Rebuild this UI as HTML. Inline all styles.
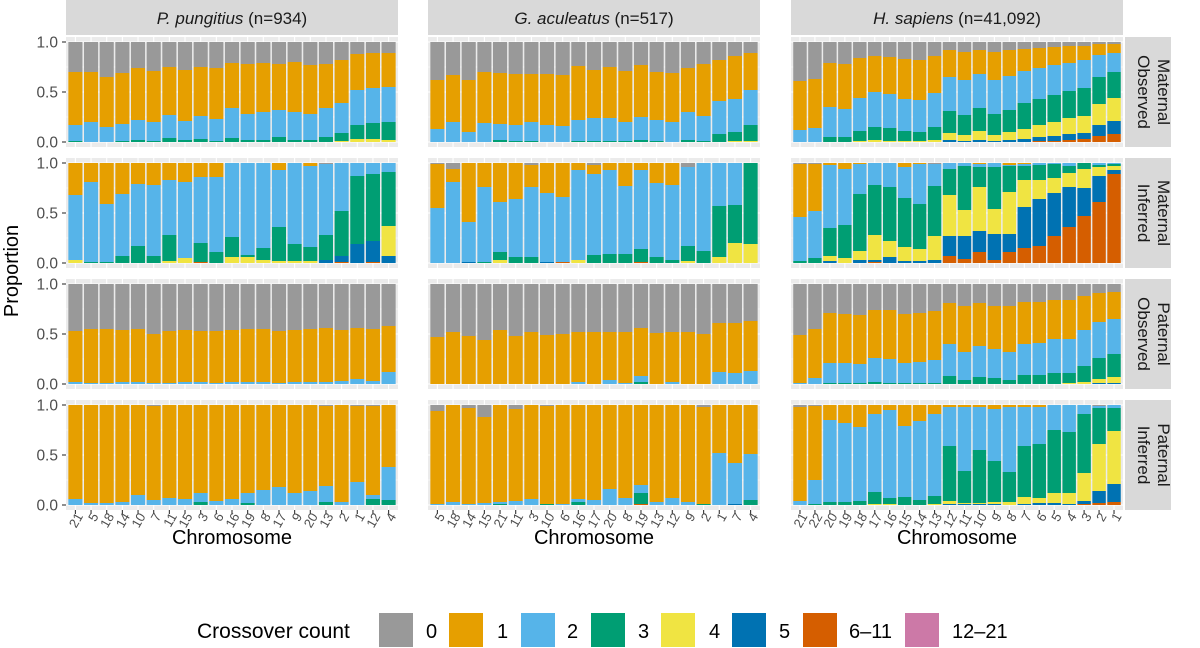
<!DOCTYPE html>
<html><head><meta charset="utf-8">
<style>
html,body{margin:0;padding:0;background:#fff;}
svg{display:block;font-family:"Liberation Sans",Arial,sans-serif;}
</style></head>
<body>
<svg id="chart" width="1200" height="648" viewBox="0 0 1200 648" xmlns="http://www.w3.org/2000/svg"></svg>
<script>
const colors = ["#999999","#E69F00","#56B4E9","#009E73","#F0E442","#0072B2","#D55E00","#CC79A7"];
const legendLabels = ["0","1","2","3","4","5","6\u201311","12\u201321"];
const yTicks = [0, 0.5, 1];
const yTickLabels = ["0.0","0.5","1.0"];
const species = ["P. pungitius","G. aculeatus","H. sapiens"];
const speciesN = ["(n=934)","(n=517)","(n=41,092)"];
const rowLabels = [["Maternal","Observed"],["Maternal","Inferred"],["Paternal","Observed"],["Paternal","Inferred"]];
const ppChrom = ["21","5","18","14","10","7","11","15","3","6","16","19","8","17","9","20","13","2","1","12","4"];
const gaChrom = ["5","18","14","15","21","11","3","10","6","16","17","20","8","19","13","12","9","2","1","7","4"];
const hsChrom = ["21","22","20","19","18","17","16","15","14","13","12","11","10","9","8","7","6","5","4","3","2","1"];

const ppMatObs = [[.30,.53,.16,.01],[.30,.50,.20],[.35,.50,.15],[.31,.51,.17,.01],[.26,.52,.20,.02],[.29,.51,.19,.01],[.25,.48,.23,.04],[.28,.51,.19,.02],[.25,.49,.23,.03],[.26,.51,.22,.01],[.21,.45,.30,.04],[.22,.50,.26,.02],[.21,.49,.28,.02],[.22,.46,.27,.05],[.20,.50,.28,.02],[.23,.49,.26,.02],[.22,.44,.29,.05],[.18,.43,.30,.08,.01],[.12,.36,.35,.14,.03],[.11,.35,.35,.16,.03],[.11,.34,.35,.18,.02]];
const ppMatInf = [[0,.32,.65,0,.03],[0,.19,.80,.01],[0,.41,.58,.01],[0,.31,.62,.07],[0,.21,.62,.17],[0,.22,.71,.07],[0,.17,.55,.26,.02],[0,.19,.76,0,.05],[0,.14,.66,.19,0,0,.01],[0,.14,.75,.11],[0,0,.74,.20,.06],[0,0,.92,.02,.06],[0,0,.85,.12,.03],[0,.07,.57,.34,.02],[0,0,.81,.17,.02],[0,.03,.81,.14,.02],[.01,0,.71,.25,0,.03],[0,0,.48,.45,0,.06,.01],[0,0,.13,.68,0,.19],[0,0,.11,.67,0,.21,.01],[0,0,.09,.54,.30,.07]];
const ppPatObs = [[.47,.51,.02],[.45,.54,.01],[.45,.54,.01],[.46,.52,.02],[.45,.53,.02],[.50,.49,.01],[.47,.52,.01],[.46,.52,.02],[.47,.51,.02],[.47,.52,.01],[.46,.52,.02],[.45,.53,.02],[.45,.53,.02],[.47,.52,.01],[.46,.52,.02],[.45,.53,.02],[.44,.54,.02],[.46,.51,.03],[.44,.51,.05],[.45,.52,.03],[.42,.46,.12]];
const ppPatInf = [[0,.94,.06],[0,.98,.02],[0,.98,.02],[0,.97,.03],[0,.90,.10],[.01,.94,.05],[0,.93,.07],[0,.94,.06],[0,.88,.09,.03],[0,.96,.04],[0,.94,.06],[0,.88,.10,.02],[0,.85,.15],[0,.82,.18],[0,.88,.12],[0,.86,.14],[.01,.80,.16,.03],[0,.97,.03],[.01,.76,.23],[.01,.89,.04,.06],[0,.62,.33,.05]];
const gaMatObs = [[.38,.49,.13],[.33,.47,.20],[.38,.52,.10],[.30,.51,.19],[.31,.51,.16,.02],[.32,.51,.16,.01],[.32,.48,.19,.01],[.32,.51,.17],[.33,.51,.16],[.24,.54,.21,.01],[.28,.48,.23,.01],[.25,.51,.23,.01],[.29,.51,.19,.01],[.23,.52,.23,.02],[.30,.48,.21,.01],[.31,.49,.20],[.26,.44,.28,.02],[.22,.52,.25,.01],[.18,.41,.33,.08],[.14,.43,.33,.09,.01],[.11,.37,.35,.16,.01]];
const gaMatInf = [[.01,.44,.55],[.06,.13,.81],[0,.59,.40,0,0,.01],[0,.24,.75,.01],[0,.39,.50,.08,.03],[0,.36,.58,.06],[.02,.22,.70,.06],[0,.30,.69,0,0,.01],[0,.34,.65,0,0,0,.01],[0,.07,.90,0,.03],[.02,.09,.81,.08],[0,.07,.84,.09],[0,.23,.68,.09],[0,.07,.79,.13,0,0,.01],[0,.20,.74,.06],[0,.22,.75,.03],[.04,0,.79,.15,.02],[0,0,.88,.12],[0,0,.43,.51,.06],[0,0,.42,.38,.20],[0,0,0,.81,.19]];
const gaPatObs = [[.53,.47],[.48,.52],[.52,.48],[.56,.44],[.46,.54],[.52,.48],[.48,.52],[.51,.49],[.50,.50],[.48,.50,.02],[.48,.52],[.48,.48,.04],[.48,.51,.01],[.44,.48,.06,.02],[.49,.51],[.48,.50,.02],[.48,.52],[.50,.50],[.39,.49,.12],[.39,.50,.11],[.37,.50,.13]];
const gaPatInf = [[.06,.93,.01],[0,.97,.03],[.03,.96,.01],[.12,.86,.02],[0,.97,.02,.01],[.04,.92,.04],[0,.94,.06],[.01,.98,0,.01],[0,.99,.01],[0,.94,.03,.03],[0,.95,.05],[0,.84,.16],[0,.93,.07],[0,.80,.08,.11,0,0,.01],[0,.97,.03],[0,.93,.07],[0,.97,.03],[.02,.97,0,.01],[0,.48,.52],[0,.58,.41,0,0,.01],[0,.49,.46,.05]];
const hsMatObs = [[.39,.49,.12],[.37,.49,.14],[.21,.44,.30,.05],[.22,.45,.28,.05],[.16,.40,.33,.10,.01],[.14,.36,.35,.13,.02],[.15,.37,.34,.13,.01],[.17,.40,.32,.10,.01],[.18,.40,.32,.09,.01],[.14,.37,.34,.13,.02],[.08,.27,.34,.22,.07,.02],[.10,.28,.35,.20,.06,.01],[.08,.24,.34,.23,.09,.02],[.10,.28,.34,.21,.06,.01],[.08,.26,.34,.22,.08,.02],[.07,.22,.32,.26,.10,.03],[.06,.20,.31,.26,.12,.04,.01],[.05,.18,.30,.27,.14,.05,.01],[.04,.17,.28,.27,.16,.06,.02],[.04,.14,.28,.28,.17,.06,.03],[.02,.11,.22,.27,.21,.11,.06],[.02,.09,.19,.26,.23,.13,.08]];
const hsMatInf = [[.01,.53,.44,.02],[.01,.47,.47,.05],[0,.02,.63,.28,.05,.02],[0,.06,.56,.33,.05],[0,.01,.30,.57,.09,.03],[0,0,.22,.50,.25,.02,.01],[0,0,.24,.54,.16,.06],[0,.04,.31,.49,.14,.02],[0,.01,.40,.45,.12,.02],[.01,0,.22,.50,.24,.03],[0,0,.06,.26,.41,.20,.07],[0,0,.03,.44,.26,.23,.04],[0,.01,.03,.20,.44,.21,.11],[0,0,.04,.42,.25,.26,.03],[0,.02,.01,.26,.42,.18,.11],[0,.01,.02,.14,.27,.41,.15],[0,0,.02,.15,.19,.47,.17],[0,0,.01,.14,.15,.43,.27],[0,0,.03,.07,.14,.40,.36],[0,0,0,.06,.19,.28,.47],[0,0,.02,.02,.09,.26,.61],[0,0,.01,.02,.04,.04,.89]];
const hsPatObs = [[.51,.48,.01],[.45,.49,.06],[.29,.50,.20,.01],[.30,.49,.20,.01],[.31,.49,.19,.01],[.26,.48,.24,.02],[.26,.49,.24,.01],[.30,.49,.20,.01],[.29,.49,.21,.01],[.27,.49,.23,.01],[.19,.41,.32,.08],[.22,.46,.28,.04],[.19,.43,.31,.07],[.22,.43,.29,.06],[.22,.46,.28,.04],[.18,.42,.31,.09],[.18,.41,.32,.09],[.16,.39,.34,.11],[.16,.39,.34,.10,.01],[.12,.34,.36,.16,.02],[.09,.29,.36,.21,.04,.01],[.08,.27,.35,.23,.06,.01]];
const hsPatInf = [[.02,.94,.04],[.01,.74,.24,.01],[0,.15,.82,.03],[0,.18,.79,.03],[0,.22,.74,.04],[0,.09,.78,.12,.01],[0,.05,.88,.06,.01],[0,.21,.71,.08],[0,.16,.79,.05],[0,.09,.82,.08,.01],[0,.02,.39,.55,.03,.01],[0,.02,.64,.32,.01,.01],[0,.02,.43,.53,.01,.01],[0,.04,.52,.41,.02,.01],[0,.02,.65,.30,.03],[0,.02,.39,.51,.07,.01],[0,.02,.37,.54,.05,.02],[0,0,.25,.63,.10,.02],[0,0,.27,.61,.11,.01],[0,0,.09,.59,.28,.03,.01],[.01,0,.02,.36,.47,.12,.02],[0,0,.03,.23,.53,.18,.03]];

const panels = [
  [ppMatObs, gaMatObs, hsMatObs],
  [ppMatInf, gaMatInf, hsMatInf],
  [ppPatObs, gaPatObs, hsPatObs],
  [ppPatInf, gaPatInf, hsPatInf]
];
const chroms = [ppChrom, gaChrom, hsChrom];

const NS = "http://www.w3.org/2000/svg";
const svg = document.getElementById("chart");
function mk(tag, attrs, parent) {
  const e = document.createElementNS(NS, tag);
  for (const k in attrs) e.setAttribute(k, attrs[k]);
  (parent || svg).appendChild(e);
  return e;
}
const colLeft = [66, 428, 791];
const colW = 332;
const rowZero = [142, 263, 384, 505];
const yScale = 100;
function yPos(r, v) { return rowZero[r] - v * yScale; }
function xScale(c, n, i) { const step = colW / (n + 0.2); return colLeft[c] + (i + 0.6) * step; }
function barW(c, n) { return colW / (n + 0.2) * 0.9; }

for (let c = 0; c < 3; c++) {
  const s = mk("rect", {x: colLeft[c], y: 0, width: colW, height: 35, fill: "#d9d9d9"});
  
  
  const t = mk("text", {x: colLeft[c] + colW / 2, y: 24, "text-anchor": "middle", "font-size": 17, fill: "#1a1a1a"});
  
  
  const ti = mk("tspan", {"font-style": "italic"}, t);
  ti.textContent = species[c];
  const tn = mk("tspan", {}, t);
  tn.textContent = " " + speciesN[c];
}
for (let r = 0; r < 4; r++) {
  const top = rowZero[r] - 105;
  const s = mk("rect", {x: 1125, y: top, width: 46, height: 110, fill: "#d9d9d9"});
  
  
  const cy = top + 55;
  const t1 = mk("text", {x: 0, y: 0, transform: `translate(1158,${cy}) rotate(90)`, "text-anchor": "middle", "font-size": 17, fill: "#1a1a1a"});
  t1.textContent = rowLabels[r][0];
  
  
  const t2 = mk("text", {x: 0, y: 0, transform: `translate(1138,${cy}) rotate(90)`, "text-anchor": "middle", "font-size": 17, fill: "#1a1a1a"});
  t2.textContent = rowLabels[r][1];
  
  
}
for (let r = 0; r < 4; r++) {
  for (let c = 0; c < 3; c++) {
    const data = panels[r][c];
    const n = data.length;
    const g = mk("g", {});
    
    
    mk("rect", {x: colLeft[c], y: rowZero[r] - 105, width: colW, height: 110, fill: "#ebebeb"}, g);
    [0.25, 0.75].forEach(v => mk("line", {x1: colLeft[c], x2: colLeft[c] + colW, y1: yPos(r, v), y2: yPos(r, v), stroke: "#fff", "stroke-width": 0.5}, g));
    yTicks.forEach(v => mk("line", {x1: colLeft[c], x2: colLeft[c] + colW, y1: yPos(r, v), y2: yPos(r, v), stroke: "#fff", "stroke-width": 1.1}, g));
    for (let i = 0; i < n; i++) {
      const cx = xScale(c, n, i);
      mk("line", {x1: cx, x2: cx, y1: rowZero[r] - 105, y2: rowZero[r] + 5, stroke: "#fff", "stroke-width": 1.1}, g);
    }
    const bw = barW(c, n);
    for (let i = 0; i < n; i++) {
      const vals = data[i];
      let tot = 0;
      for (let k = 0; k < vals.length; k++) tot += vals[k];
      let cum = 0;
      for (let k = 7; k >= 0; k--) {
        const v = (vals[k] || 0) / tot;
        if (v <= 0) continue;
        const y1 = yPos(r, cum + v), y0 = yPos(r, cum);
        const rect = mk("rect", {x: xScale(c, n, i) - bw / 2, y: y1, width: bw, height: y0 - y1, fill: colors[k]}, g);
        
        
        cum += v;
      }
    }
    if (c === 0) {
      yTicks.forEach((v, j) => {
        mk("line", {x1: 62, x2: 66, y1: yPos(r, v), y2: yPos(r, v), stroke: "#333", "stroke-width": 1.1});
        const t = mk("text", {x: 58, y: yPos(r, v) + 5.5, "text-anchor": "end", "font-size": 15.5, fill: "#4d4d4d"});
        t.textContent = yTickLabels[j];
        
        
      });
    }
    if (r === 3) {
      const labs = chroms[c];
      for (let i = 0; i < n; i++) {
        const cx = xScale(c, n, i);
        mk("line", {x1: cx, x2: cx, y1: 510, y2: 514, stroke: "#333", "stroke-width": 1.1});
        const t = mk("text", {x: 0, y: 0, transform: `translate(${cx + 4},${514}) rotate(-60)`, "text-anchor": "end", "font-size": 13, fill: "#4d4d4d", dy: "0.35em"});
        t.textContent = labs[i];
        
        
      }
      const xt = mk("text", {x: colLeft[c] + colW / 2, y: 544, "text-anchor": "middle", "font-size": 20, fill: "#000"});
      xt.textContent = "Chromosome";
      
      
    }
  }
}
const yt = mk("text", {x: 0, y: 0, transform: "translate(18,271) rotate(-90)", "text-anchor": "middle", "font-size": 20, fill: "#000"});
yt.textContent = "Proportion";



const lt = mk("text", {x: 197, y: 638, "font-size": 21, fill: "#000"});
lt.textContent = "Crossover count";


const keyX = [379, 449, 521, 591, 661, 732, 803, 905];
const labX = [426, 497, 567, 638, 709, 779, 849, 952];
for (let k = 0; k < 8; k++) {
  const g = mk("g", {});
  
  
  mk("rect", {x: keyX[k], y: 613, width: 34, height: 34, fill: colors[k]}, g);
  const t = mk("text", {x: labX[k], y: 638, "font-size": 20, fill: "#000"}, g);
  t.textContent = legendLabels[k];
}
</script>
</body></html>
